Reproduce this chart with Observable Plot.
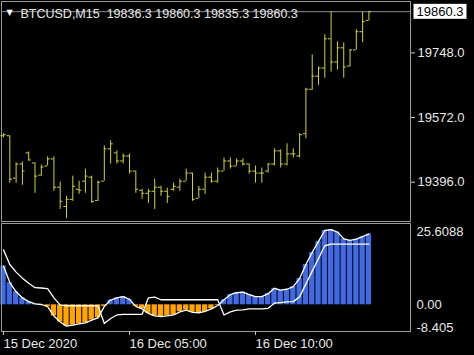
<!DOCTYPE html>
<html>
<head>
<meta charset="utf-8">
<script src="https://cdn.jsdelivr.net/npm/d3@7"></script>
<script src="https://cdn.jsdelivr.net/npm/@observablehq/plot@0.6"></script>
<style>
  html, body { margin: 0; padding: 0; background: #000; }
  #chart { width: 474px; height: 355px; background: #000; position: relative; overflow: hidden; }
  #chart svg { display: block; white-space: pre; }
</style>
</head>
<body>
<div id="chart"></div>
<script>
// ---- data ----
const symbol = "BTCUSD,M15";
const barOpen  = [19522.5,19522.5,19407.0,19445.5,19475.8,19448.3,19415.3,19440.0,19459.3,19382.3,
                  19330.0,19349.3,19376.8,19398.8,19409.8,19346.5,19398.8,19486.8,19475.8,19453.8,
                  19467.5,19426.3,19374.0,19365.8,19371.3,19382.3,19371.3,19376.8,19382.3,19398.8,
                  19420.8,19352.0,19376.8,19409.8,19398.8,19426.3,19453.8,19440.0,19453.8,19445.5,
                  19426.3,19420.8,19426.3,19445.5,19481.3,19445.5,19473.0,19467.5,19528.0,19649.0,
                  19684.8,19706.8,19786.5,19723.3,19761.8,19712.3,19756.3,19805.8,19836.3];
const barHigh  = [19528.0,19522.5,19448.3,19451.0,19478.5,19448.3,19442.8,19464.8,19464.8,19396.0,
                  19357.5,19412.5,19398.8,19431.8,19412.5,19398.8,19495.0,19508.8,19481.3,19473.0,
                  19473.0,19426.3,19376.8,19376.8,19404.3,19385.0,19379.5,19393.3,19404.3,19431.8,
                  19420.8,19385.0,19420.8,19420.8,19434.5,19462.0,19462.0,19459.3,19459.3,19445.5,
                  19440.0,19434.5,19445.5,19486.8,19484.0,19500.5,19486.8,19528.0,19651.8,19742.5,
                  19709.5,19797.5,19860.3,19778.3,19775.5,19756.3,19811.3,19858.0,19860.3];
const barLow   = [19517.0,19393.3,19393.3,19387.8,19453.8,19365.8,19412.5,19440.0,19371.3,19321.8,
                  19297.0,19343.8,19363.0,19365.8,19338.3,19343.8,19398.8,19445.5,19445.5,19445.5,
                  19418.0,19365.8,19349.3,19338.3,19321.8,19357.5,19338.3,19371.3,19371.3,19398.8,
                  19343.8,19352.0,19363.0,19393.3,19393.3,19426.3,19431.8,19440.0,19440.0,19418.0,
                  19393.3,19393.3,19420.8,19440.0,19434.5,19440.0,19462.0,19462.0,19514.3,19646.3,
                  19660.0,19679.3,19695.8,19701.3,19679.3,19709.5,19756.3,19775.5,19835.3];
const barClose = [19525.3,19404.3,19445.5,19426.3,19456.5,19412.5,19437.3,19459.3,19382.3,19343.8,
                  19349.3,19385.0,19374.0,19412.5,19343.8,19396.0,19486.8,19500.5,19453.8,19467.5,
                  19426.3,19376.8,19365.8,19371.3,19382.3,19371.3,19357.5,19385.0,19398.8,19420.8,
                  19349.3,19376.8,19409.8,19398.8,19426.3,19453.8,19440.0,19453.8,19445.5,19426.3,
                  19420.8,19420.8,19445.5,19481.3,19445.5,19473.0,19473.0,19525.3,19649.0,19684.8,
                  19706.8,19786.5,19723.3,19761.8,19709.5,19756.3,19805.8,19833.3,19860.3];
const priceTicks = [19748.0, 19572.0, 19396.0];

const histValues = [12.2,7.0,4.1,2.2,1.0,0.3,0.1,-0.6,-3.5,-5.4,
                    -6.7,-6.4,-6.0,-5.7,-4.8,-4.1,-0.5,1.5,2.2,2.6,
                    1.7,-0.5,-1.3,-2.7,-3.5,-3.7,-3.5,-3.2,-2.2,-1.7,
                    -2.4,-2.5,-2.1,-1.3,-0.2,1.6,3.2,3.8,4.0,3.2,
                    2.6,2.6,3.5,5.2,4.6,4.9,5.7,8.3,12.7,16.5,
                    20.0,23.4,23.7,22.9,20.8,20.3,20.7,21.5,22.3];
const signalValues = [17.3,12.7,10.3,8.4,6.8,5.4,5.3,5.1,2.2,-0.1,
                      -0.3,-0.3,-0.3,-0.3,-0.3,-0.3,-5.9,-4.3,-3.2,-3.0,
                      -3.0,-3.0,-3.0,2.2,2.4,1.6,1.6,1.6,1.6,1.6,
                      1.6,1.6,1.6,1.6,1.6,-3.2,-2.2,-1.7,-1.6,-1.3,
                      -1.3,-1.3,-1.1,0.5,0.7,0.9,1.0,2.5,6.6,10.6,
                      14.6,18.6,19.1,19.1,19.1,19.1,19.1,19.1,19.1];
const subMax = 25.6088, subMin = -8.405;
const timeTicks = [0, 20, 40];
const timeLabels = ["15 Dec 2020", "16 Dec 05:00", "16 Dec 10:00"];

// ---- build ----
const N = barOpen.length;
const bars = d3.range(N).map(i => ({i, o: barOpen[i], h: barHigh[i], l: barLow[i], c: barClose[i]}));
const hist = d3.range(N).map(i => ({i, v: histValues[i]}));
const sig = d3.range(N).map(i => ({i, v: signalValues[i]}));
const last = bars[N - 1];
const header = `${symbol}  ${last.o.toFixed(1)} ${last.h.toFixed(1)} ${last.l.toFixed(1)} ${last.c.toFixed(1)}`;

const W = 474;
const xDomain = [-0.32, 64.6];
const yellow = "#d2d23a";
const blue = "#4169e1";
const orange = "#ffa500";
const font = "Liberation Sans, Arial, sans-serif";
const textColor = "#e8e8e8";
const frameColor = "#9a9a9a";

const main = Plot.plot({
  width: W, height: 222,
  marginLeft: 1, marginRight: 64, marginTop: 1, marginBottom: 1,
  style: {background: "#000", color: textColor, fontFamily: font, fontSize: "13px"},
  x: {domain: xDomain, axis: null, label: null},
  y: {domain: [19289, 19888], axis: null, label: null},
  marks: [
    Plot.frame({stroke: frameColor}),
    Plot.ruleY([last.c], {stroke: "#8a8a8a"}),
    Plot.ruleX(bars, {x: "i", y1: "l", y2: "h", stroke: yellow}),
    Plot.ruleY(bars, {y: "o", x1: d => d.i - 0.42, x2: "i", stroke: yellow}),
    Plot.ruleY(bars, {y: "c", x1: "i", x2: d => d.i + 0.42, stroke: yellow}),
    Plot.axisY(priceTicks, {anchor: "right", label: null, tickSize: 4, tickPadding: 3, tickFormat: d => d.toFixed(1), stroke: "#ccc", fill: textColor, fontSize: 13}),
    Plot.text([header], {frameAnchor: "top-left", dx: 19, dy: 12, lineAnchor: "middle", textAnchor: "start", fill: textColor, fontSize: 12.5}),
    Plot.text(["\u25BC"], {frameAnchor: "top-left", dx: 8, dy: 11, lineAnchor: "middle", textAnchor: "middle", fill: "#fff", fontSize: 8, fontFamily: "DejaVu Sans"}),
    Plot.text([last.c], {y: d => d, frameAnchor: "right", dx: 6, textAnchor: "start", lineAnchor: "middle", fill: "#000", fontSize: 13, text: d => d.toFixed(1)})
  ]
});

const sub = Plot.plot({
  width: W, height: 133,
  marginLeft: 1, marginRight: 64, marginTop: 1, marginBottom: 24,
  style: {background: "#000", color: textColor, fontFamily: font, fontSize: "13px"},
  x: {domain: xDomain, axis: null, label: null},
  y: {domain: [subMin, subMax], axis: null, label: null},
  marks: [
    Plot.rectY(hist, {x1: d => d.i - 0.5, x2: d => d.i + 0.5, y: "v", fill: d => d.v >= 0 ? blue : orange, insetLeft: 0.5, insetRight: 0.5}),
    Plot.line(hist, {x: "i", y: "v", stroke: "#fff", strokeWidth: 1.3}),
    Plot.line(sig, {x: "i", y: "v", stroke: "#fff", strokeWidth: 1.3}),
    Plot.frame({stroke: frameColor}),
    Plot.axisY([0], {anchor: "right", label: null, tickSize: 0, tickPadding: 6, tickFormat: d => d.toFixed(2), fill: textColor, fontSize: 13}),
    Plot.text([subMax], {frameAnchor: "top-right", dx: 6, dy: 3, textAnchor: "start", lineAnchor: "top", fill: textColor, fontSize: 13, text: d => d.toFixed(4)}),
    Plot.text([subMin], {frameAnchor: "bottom-right", dx: 6, dy: 0, textAnchor: "start", lineAnchor: "bottom", fill: textColor, fontSize: 13, text: d => d.toFixed(3)}),
    Plot.axisX(timeTicks, {anchor: "bottom", label: null, tickSize: 4, tickPadding: 3, textAnchor: "start", tickFormat: d => timeLabels[timeTicks.indexOf(d)], stroke: "#ccc", fill: textColor, fontSize: 13})
  ]
});

const host = document.getElementById("chart");
host.appendChild(main);
host.appendChild(sub);

// white box behind the current price label
const priceText = [...main.querySelectorAll("text")].find(t => t.textContent === last.c.toFixed(1));
if (priceText) {
  const bb = priceText.getBBox();
  const rect = document.createElementNS("http://www.w3.org/2000/svg", "rect");
  rect.setAttribute("x", bb.x - 3);
  rect.setAttribute("y", bb.y);
  rect.setAttribute("width", bb.width + 6);
  rect.setAttribute("height", bb.height);
  rect.setAttribute("fill", "#fff");
  const tr = priceText.getAttribute("transform");
  if (tr) rect.setAttribute("transform", tr);
  priceText.parentNode.insertBefore(rect, priceText);
}
</script>
</body>
</html>
